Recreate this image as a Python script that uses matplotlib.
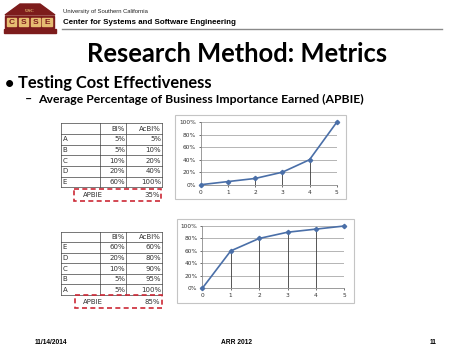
import matplotlib
matplotlib.use("Agg")
import matplotlib.pyplot as plt
import matplotlib.patches as mpatches

# --- Data ---
order_1 = ["A", "B", "C", "D", "E"]
bi_1 = [5, 5, 10, 20, 60]
acbi_1 = [5, 10, 20, 40, 100]
apbie_1 = 35

order_2 = ["E", "D", "C", "B", "A"]
bi_2 = [60, 20, 10, 5, 5]
acbi_2 = [60, 80, 90, 95, 100]
apbie_2 = 85

steps = [0, 1, 2, 3, 4, 5]
y_ticks = [0, 20, 40, 60, 80, 100]

W, H = 474, 355
DARK_RED = "#7d1c1c"
GOLD = "#e6bd72"
LINE_BLUE = "#4a6fa8"
DASH_RED = "#cc2936"

fig = plt.figure(figsize=(W / 100, H / 100), dpi=100)
fig.patch.set_facecolor("white")

# overlay axes in pixel coordinates
slide = fig.add_axes([0, 0, 1, 1])
slide.set_xlim(0, W)
slide.set_ylim(H, 0)
slide.axis("off")


def px_axes(x0, y0, x1, y1):
    return fig.add_axes([x0 / W, 1 - y1 / H, (x1 - x0) / W, (y1 - y0) / H])


# --- Logo ---
slide.add_patch(mpatches.Polygon([(5, 15), (20, 4), (40, 4), (55, 15)],
                                 closed=True, color=DARK_RED, zorder=2))
slide.text(30, 10.5, "USC", ha="center", va="center", fontsize=3.5,
           color=GOLD, fontweight="bold", family="Liberation Serif")
slide.add_patch(mpatches.Rectangle((5, 16), 49, 11.5, color=DARK_RED, zorder=2))
for i, letter in enumerate("CSSE"):
    bx = 7 + i * 11.8
    slide.add_patch(mpatches.Rectangle((bx, 17.5), 9.5, 8.5, color=GOLD, zorder=3))
    slide.text(bx + 4.75, 22, letter, ha="center", va="center", fontsize=6,
               color=DARK_RED, fontweight="bold", zorder=4, family="Liberation Sans")
slide.add_patch(mpatches.Rectangle((4, 29), 52, 4, color=DARK_RED, zorder=2))

# --- Header ---
slide.text(63, 13, "University of Southern California", fontsize=4.25,
           color="#222222", family="Liberation Sans", va="baseline")
slide.text(63, 24, "Center for Systems and Software Engineering", fontsize=5.65,
           color="black", fontweight="bold", family="Liberation Sans", va="baseline")
slide.plot([62, 442], [28.5, 28.5], color="#8a8a8a", lw=1.0)

# --- Titles ---
slide.text(237, 62, "Research Method: Metrics", ha="center", va="baseline",
           fontsize=18.4, fontweight="bold", family="Lato", color="black")
slide.text(5, 88, "\u2022", fontsize=11.5, fontweight="bold", family="Lato", va="baseline")
slide.text(18, 88, "Testing Cost Effectiveness", fontsize=11.9,
           fontweight="bold", family="Lato", va="baseline")
slide.text(25, 103, "\u2013", fontsize=8.8, fontweight="bold", family="Lato", va="baseline")
slide.text(38, 103, "Average Percentage of Business Importance Earned (APBIE)",
           fontsize=8.8, fontweight="bold", family="Lato", va="baseline")


# --- Tables ---
def draw_table(top, bottom, names, bi, acbi, apbie, box):
    cols = [61, 100, 126.5, 162.5]
    n = len(names) + 1
    rh = (bottom - top) / n
    for r in range(n + 1):
        slide.plot([cols[0], cols[-1]], [top + r * rh] * 2, color="#404040", lw=0.5)
    for c in cols:
        slide.plot([c, c], [top, bottom], color="#404040", lw=0.5)
    fs = 5.0
    kw = dict(fontsize=fs, family="DejaVu Sans", color="#333333", va="center")
    slide.text(cols[2] - 1.5, top + rh / 2, "BI%", ha="right", **kw)
    slide.text(cols[3] - 1.5, top + rh / 2, "AcBI%", ha="right", **kw)
    for i, name in enumerate(names):
        yc = top + (i + 1.5) * rh
        slide.text(cols[0] + 1.5, yc, name, ha="left", **kw)
        slide.text(cols[2] - 1.5, yc, f"{bi[i]}%", ha="right", **kw)
        slide.text(cols[3] - 1.5, yc, f"{acbi[i]}%", ha="right", **kw)
    bx0, by0, bx1, by1 = box
    slide.add_patch(mpatches.Rectangle((bx0, by0), bx1 - bx0, by1 - by0, fill=False,
                                       edgecolor=DASH_RED, lw=1.2,
                                       linestyle=(0, (3, 2)), zorder=5))
    slide.text(83, (by0 + by1) / 2 + 0.5, "APBIE", ha="left", **kw)
    slide.text(160, (by0 + by1) / 2 + 0.5, f"{apbie}%", ha="right", **kw)


draw_table(123.3, 187.3, order_1, bi_1, acbi_1, apbie_1, (74, 188.5, 161.5, 200.5))
draw_table(231.5, 295, order_2, bi_2, acbi_2, apbie_2, (75, 294.5, 162, 307.5))


# --- Charts ---
def draw_chart(frame, plot_box, acbi):
    fx0, fy0, fx1, fy1 = frame
    slide.add_patch(mpatches.Rectangle((fx0, fy0), fx1 - fx0, fy1 - fy0, fill=False,
                                       edgecolor="#c4c4c4", lw=0.8))
    ax = px_axes(*plot_box)
    ax.patch.set_alpha(0)
    vals = [0] + acbi
    ax.vlines(steps, 0, vals, color="#3a3a3a", lw=0.6, zorder=2)
    ax.plot(steps, vals, color=LINE_BLUE, lw=1.2, marker="D", markersize=2.2,
            zorder=3, clip_on=False)
    ax.set_xlim(0, 5)
    ax.set_ylim(0, 100)
    ax.set_yticks(y_ticks)
    ax.set_yticklabels([f"{v}%" for v in y_ticks])
    ax.set_xticks(steps)
    ax.yaxis.grid(True, color="#a8a8a8", lw=0.6)
    ax.set_axisbelow(True)
    for s in ["top", "right"]:
        ax.spines[s].set_visible(False)
    ax.spines["left"].set_color("#8a8a8a")
    ax.spines["bottom"].set_color("#8a8a8a")
    ax.spines["left"].set_linewidth(0.6)
    ax.spines["bottom"].set_linewidth(0.6)
    ax.tick_params(axis="both", labelsize=4.2, colors="#333333", length=1.5,
                   width=0.5, pad=2)


draw_chart((175, 115, 346, 199), (200.7, 122.3, 336.7, 184.7), acbi_1)
draw_chart((177, 219, 354, 303), (202.3, 226, 344.3, 288.3), acbi_2)

# --- Footer ---
fkw = dict(fontsize=4.8, fontweight="bold", family="Liberation Sans", va="center")
slide.text(35, 342, "11/14/2014", ha="left", **fkw)
slide.text(237, 342, "ARR 2012", ha="center", **fkw)
slide.text(437, 342, "11", ha="right", **fkw)

fig.savefig("out.png", dpi=100)
